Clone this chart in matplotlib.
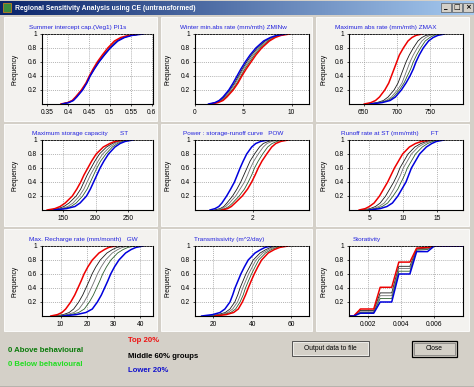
import numpy as np
import matplotlib
matplotlib.use("Agg")
import matplotlib.pyplot as plt
from matplotlib.patches import Rectangle
from matplotlib.colors import LinearSegmentedColormap
from matplotlib.ticker import FuncFormatter

plt.rcParams['font.family'] = ['Liberation Sans', 'DejaVu Sans']

W, H = 474, 387

# cumulative frequency levels shared by the smooth curves
FREQ = [0, 0.02, 0.05, 0.1, 0.2, 0.3, 0.4, 0.5, 0.6, 0.7, 0.8, 0.9, 0.95, 0.98, 1.0]

# --- Summer intercept cap.(Veg1) PI1s
pi1s_top = [0.383, 0.399, 0.410, 0.418, 0.432, 0.443, 0.451, 0.460, 0.470, 0.482, 0.495, 0.511, 0.526, 0.544, 0.570]
pi1s_mid1 = [0.384, 0.400, 0.411, 0.419, 0.433, 0.444, 0.452, 0.461, 0.472, 0.485, 0.499, 0.516, 0.531, 0.549, 0.575]
pi1s_mid2 = [0.385, 0.401, 0.412, 0.420, 0.434, 0.444, 0.452, 0.462, 0.473, 0.486, 0.500, 0.517, 0.533, 0.551, 0.577]
pi1s_mid3 = [0.385, 0.401, 0.412, 0.420, 0.434, 0.445, 0.453, 0.463, 0.474, 0.487, 0.501, 0.518, 0.534, 0.552, 0.578]
pi1s_low = [0.386, 0.402, 0.413, 0.421, 0.435, 0.445, 0.453, 0.463, 0.474, 0.487, 0.501, 0.519, 0.535, 0.553, 0.580]

# --- Winter min.abs rate ZMINw
zminw_top = [1.6, 2.38, 2.9, 3.3, 3.95, 4.45, 4.85, 5.3, 5.8, 6.3, 6.9, 7.7, 8.3, 8.9, 9.8]
zminw_mid1 = [1.45, 2.14, 2.6, 3.0, 3.6, 4.1, 4.5, 4.9, 5.35, 5.85, 6.45, 7.25, 7.9, 8.54, 9.5]
zminw_mid2 = [1.5, 2.22, 2.7, 3.1, 3.7, 4.2, 4.6, 5.0, 5.5, 6.0, 6.6, 7.4, 8.0, 8.64, 9.6]
zminw_mid3 = [1.55, 2.30, 2.8, 3.2, 3.85, 4.35, 4.75, 5.15, 5.65, 6.15, 6.75, 7.55, 8.15, 8.77, 9.7]
zminw_low = [1.4, 2.06, 2.5, 2.9, 3.5, 3.95, 4.35, 4.75, 5.2, 5.7, 6.3, 7.1, 7.8, 8.44, 9.4]

# --- Maximum abs rate ZMAX
zmax_top = [651, 661, 668, 674, 682, 688, 692, 696, 700, 704, 710, 717, 723, 729, 738]
zmax_mid1 = [655, 670, 680, 687, 696, 702, 706, 710, 714, 719, 725, 732, 738, 744, 754]
zmax_mid2 = [657, 673, 684, 692, 701, 708, 712, 716, 720, 725, 731, 738, 744, 750, 760]
zmax_mid3 = [658, 675, 687, 695, 704, 711, 716, 721, 725, 730, 736, 743, 750, 756, 766]
zmax_low = [660, 678, 690, 698, 707, 714, 720, 725, 729, 734, 740, 748, 755, 762, 772]

# --- Maximum storage capacity ST
st_top = [125, 137, 145, 153, 164, 171, 177, 182, 188, 194, 201, 212, 222, 230, 242]
st_mid1 = [128, 142, 151, 159, 170, 177, 182, 187, 193, 199, 206, 217, 226, 234, 246]
st_mid2 = [131, 147, 157, 165, 175, 182, 187, 192, 198, 204, 211, 222, 230, 238, 250]
st_mid3 = [134, 151, 162, 170, 180, 187, 192, 197, 202, 208, 216, 226, 234, 242, 254]
st_low = [136, 155, 168, 176, 186, 192, 197, 202, 207, 213, 220, 230, 238, 246, 258]

# --- Power : storage-runoff curve POW
pow_top = [1.51, 1.60, 1.66, 1.72, 1.835, 1.92, 1.985, 2.04, 2.09, 2.15, 2.225, 2.305, 2.37, 2.45, 2.57]
pow_mid1 = [1.39, 1.48, 1.54, 1.59, 1.68, 1.75, 1.81, 1.86, 1.91, 1.96, 2.03, 2.11, 2.17, 2.25, 2.37]
pow_mid2 = [1.43, 1.51, 1.57, 1.63, 1.73, 1.80, 1.87, 1.92, 1.965, 2.02, 2.09, 2.17, 2.23, 2.31, 2.43]
pow_mid3 = [1.47, 1.56, 1.62, 1.68, 1.785, 1.87, 1.93, 1.985, 2.03, 2.09, 2.16, 2.24, 2.31, 2.39, 2.51]
pow_low = [1.32, 1.40, 1.46, 1.51, 1.585, 1.65, 1.71, 1.755, 1.80, 1.85, 1.905, 1.985, 2.05, 2.13, 2.25]

# --- Runoff rate at ST FT
ft_top = [3.5, 4.4, 5.0, 5.7, 6.5, 7.1, 7.7, 8.2, 8.7, 9.3, 9.9, 10.9, 11.8, 12.7, 14.0]
ft_mid1 = [4.0, 5.1, 5.9, 6.6, 7.4, 8.0, 8.6, 9.1, 9.5, 10.1, 10.7, 11.7, 12.6, 13.4, 14.6]
ft_mid2 = [4.3, 5.6, 6.4, 7.2, 8.0, 8.6, 9.1, 9.6, 10.0, 10.6, 11.2, 12.2, 13.1, 13.9, 15.0]
ft_mid3 = [4.6, 6.0, 6.9, 7.7, 8.5, 9.2, 9.7, 10.2, 10.6, 11.2, 11.8, 12.8, 13.6, 14.4, 15.5]
ft_low = [5.0, 6.6, 7.6, 8.4, 9.2, 9.8, 10.4, 10.8, 11.2, 11.8, 12.4, 13.4, 14.2, 14.9, 16.0]

# --- Max. Recharge rate GW
gw_top = [6.3, 8.8, 10.5, 11.9, 13.8, 15.3, 16.5, 17.7, 18.8, 20.2, 21.9, 24.4, 26.5, 28.1, 30.5]
gw_mid1 = [7.6, 11.0, 13.2, 14.9, 16.8, 18.3, 19.5, 20.7, 21.8, 23.2, 24.9, 27.4, 29.5, 31.2, 33.7]
gw_mid2 = [8.5, 12.4, 15.0, 16.9, 18.8, 20.3, 21.5, 22.7, 23.8, 25.2, 26.9, 29.4, 31.5, 33.2, 35.7]
gw_mid3 = [9.3, 13.8, 16.8, 18.9, 20.8, 22.3, 23.5, 24.7, 25.8, 27.2, 28.9, 31.4, 33.5, 35.3, 38.0]
gw_low = [10.6, 15.9, 19.5, 21.9, 23.8, 25.3, 26.5, 27.7, 28.8, 30.2, 31.9, 34.4, 36.5, 38.3, 41.0]

# --- Transmissivity
tr_top = [20.9, 26.7, 30.5, 32.9, 35.0, 36.6, 38.0, 39.5, 41.1, 42.9, 44.9, 48.3, 51.5, 54.3, 58.6]
tr_mid1 = [16.6, 22.4, 26.2, 28.6, 31.1, 32.6, 33.8, 35.3, 36.8, 38.7, 40.6, 44.1, 47.2, 49.6, 53.3]
tr_mid2 = [18.0, 23.7, 27.5, 30.0, 32.5, 34.0, 35.2, 36.7, 38.2, 40.1, 42.0, 45.5, 48.6, 51.2, 55.0]
tr_mid3 = [19.5, 25.2, 29.0, 31.5, 33.8, 35.4, 36.6, 38.1, 39.7, 41.5, 43.4, 46.9, 50.0, 52.8, 56.9]
tr_low = [14.0, 19.7, 23.5, 26.0, 28.6, 30.0, 31.2, 32.7, 34.2, 36.0, 38.0, 41.5, 44.5, 46.7, 50.0]

# --- Storativity (discrete values -> stepped curves)
sto_x = [0.00083, 0.00112, 0.00152, 0.00233, 0.00272, 0.00342, 0.00385, 0.00452,
         0.00493, 0.00559, 0.0060, 0.00774]
sto_top = [0, 0, 0.10, 0.10, 0.41, 0.41, 0.77, 0.77, 0.97, 0.98, 1, 1]
sto_mid1 = [0, 0, 0.08, 0.08, 0.33, 0.33, 0.71, 0.71, 0.96, 0.97, 1, 1]
sto_mid2 = [0, 0, 0.06, 0.06, 0.29, 0.29, 0.68, 0.68, 0.95, 0.96, 1, 1]
sto_mid3 = [0, 0, 0.05, 0.05, 0.25, 0.25, 0.64, 0.64, 0.94, 0.95, 1, 1]
sto_low = [0, 0, 0.04, 0.04, 0.20, 0.20, 0.60, 0.60, 0.92, 0.92, 1, 1]

titles = ["Summer intercept cap.(Veg1) PI1s", "Winter min.abs rate (mm/mth) ZMINw",
          "Maximum abs rate (mm/mth) ZMAX", "Maximum storage capacity       ST",
          "Power : storage-runoff curve   POW", "Runoff rate at ST (mm/mth)       FT",
          "Max. Recharge rate (mm/month)   GW", "Transmissivity (m^2/day)", "Storativity"]
xticks = [[0.35, 0.4, 0.45, 0.5, 0.55, 0.6], [0, 5, 10], [650, 700, 750],
          [150, 200, 250], [2], [5, 10, 15], [10, 20, 30, 40], [20, 40, 60],
          [0.002, 0.004, 0.006]]
xlims = [(0.338, 0.603), (0, 11.8), (628, 800), (117, 289), (1.08, 2.9),
         (2, 18.8), (3, 44.7), (10.6, 69.3), (0.00083, 0.00774)]

panels = [
    (pi1s_top, pi1s_mid1, pi1s_mid2, pi1s_mid3, pi1s_low),
    (zminw_top, zminw_mid1, zminw_mid2, zminw_mid3, zminw_low),
    (zmax_top, zmax_mid1, zmax_mid2, zmax_mid3, zmax_low),
    (st_top, st_mid1, st_mid2, st_mid3, st_low),
    (pow_top, pow_mid1, pow_mid2, pow_mid3, pow_low),
    (ft_top, ft_mid1, ft_mid2, ft_mid3, ft_low),
    (gw_top, gw_mid1, gw_mid2, gw_mid3, gw_low),
    (tr_top, tr_mid1, tr_mid2, tr_mid3, tr_low),
    (sto_top, sto_mid1, sto_mid2, sto_mid3, sto_low),
]

# layout in screen pixels
col_axes = [(42, 153), (195, 309), (349, 463)]
row_axes = [(34, 104), (140, 210), (246, 316)]
col_box = [(4, 157), (161, 312), (316, 469)]
row_box = [(17, 121), (124, 226), (229, 331)]
title_x = [78, 233, 386, 80, 233, 390, 83, 229, 367]
title_y = [28, 133, 240]
ylab_x = [15, 168, 324]

BG = '#D4D0C8'
mid_colors = ['#1a1a1a', '#707070', '#2f5f2f']

fig = plt.figure(figsize=(W / 100, H / 100), dpi=100, facecolor=BG)
bg = fig.add_axes([0, 0, 1, 1])
bg.set_xlim(0, W)
bg.set_ylim(H, 0)
bg.axis('off')

# title bar
cmap = LinearSegmentedColormap.from_list('tb', ['#0A246A', '#A6CAF0'])
bg.imshow(np.linspace(0, 1, 256).reshape(1, -1), extent=(0, W, 15, 1),
          aspect='auto', cmap=cmap, zorder=1)
bg.text(15, 8, "Regional Sensitivity Analysis using CE (untransformed)", color='white',
        fontsize=4.9, fontweight='bold', va='center', ha='left', zorder=3)
bg.add_patch(Rectangle((3, 3), 8, 9, facecolor='#3c8c3c', edgecolor='#c08020', lw=0.6, zorder=3))
for bx, glyph in zip([441, 452, 463], ['_', '□', '×']):
    bg.add_patch(Rectangle((bx, 3), 10, 9, facecolor=BG, edgecolor='#404040', lw=0.4, zorder=3))
    bg.text(bx + 5, 7.5, glyph, fontsize=5, fontweight='bold', ha='center', va='center',
            family=['DejaVu Sans'], zorder=4)

# panel boxes
for r in range(3):
    for c in range(3):
        x0, x1 = col_box[c]
        y0, y1 = row_box[r]
        bg.add_patch(Rectangle((x0, y0), x1 - x0, y1 - y0, facecolor='#F3F2EF',
                               edgecolor='#FFFFFF', lw=0.6, zorder=1))

fmt = FuncFormatter(lambda v, p: '%g' % v)
for i, curves in enumerate(panels):
    r, c = divmod(i, 3)
    l, rt = col_axes[c]
    t, b = row_axes[r]
    ax = fig.add_axes([l / W, 1 - b / H, (rt - l) / W, (b - t) / H])
    ax.set_facecolor('white')
    top, m1, m2, m3, low = curves
    if i == 8:
        xs_list = [sto_x] * 5
        ys_list = [m1, m2, m3, top, low]
    else:
        xs_list = [m1, m2, m3, top, low]
        ys_list = [FREQ] * 5
    styles = [(mid_colors[0], 0.6), (mid_colors[1], 0.6), (mid_colors[2], 0.6),
              ('#EE0000', 1.1), ('#0000DD', 1.1)]
    for xs, ys, (col, lw) in zip(xs_list, ys_list, styles):
        ax.plot(xs, ys, color=col, lw=lw, solid_joinstyle='round')
    ax.set_xlim(*xlims[i])
    ax.set_ylim(0, 1)
    ax.set_xticks(xticks[i])
    ax.xaxis.set_major_formatter(fmt)
    ax.set_yticks([0.2, 0.4, 0.6, 0.8, 1.0])
    ax.set_yticklabels(['0.2', '0.4', '0.6', '0.8', '1'])
    ax.tick_params(labelsize=4.8, length=1.5, width=0.5, pad=2)
    ax.grid(True, color='#9a9a9a', ls=(0, (1.5, 1.5)), lw=0.5)
    for side in ['left', 'bottom', 'right']:
        ax.spines[side].set_linewidth(0.8)
    ax.spines['top'].set_linestyle((0, (2, 1.5)))
    ax.spines['top'].set_linewidth(0.6)
    bg.text(title_x[i], title_y[r], titles[i], color='#2222DD', fontsize=4.6,
            ha='center', va='center', zorder=3)
    bg.text(ylab_x[c], (t + b) / 2, "Frequency", rotation=90, fontsize=4.8,
            ha='center', va='center', zorder=3)

# legend / status text
bg.text(8, 351, "0 Above behavioural", color='#0A7A0A', fontsize=5.6, fontweight='bold', va='center')
bg.text(8, 365, "0 Below behavioural", color='#22DD22', fontsize=5.6, fontweight='bold', va='center')
bg.text(128, 341, "Top 20%", color='#EE1111', fontsize=5.6, fontweight='bold', va='center')
bg.text(128, 356, "Middle 60% groups", color='black', fontsize=5.6, fontweight='bold', va='center')
bg.text(128, 371, "Lower 20%", color='#1111CC', fontsize=5.6, fontweight='bold', va='center')

# buttons
bg.add_patch(Rectangle((292, 341), 77, 15, facecolor=BG, edgecolor='#404040', lw=0.6, zorder=2))
bg.add_patch(Rectangle((292.8, 341.8), 75.4, 13.4, facecolor='none', edgecolor='white', lw=0.4, zorder=2))
bg.text(330.5, 348.5, "Output data to file", fontsize=4.8, ha='center', va='center', zorder=3)
bg.add_patch(Rectangle((412, 341), 45, 16, facecolor=BG, edgecolor='black', lw=0.9, zorder=2))
bg.add_patch(Rectangle((414, 343), 41, 12, facecolor='none', edgecolor='#606060', lw=0.4, zorder=2))
bg.text(434.5, 349, "Close", fontsize=4.8, ha='center', va='center', zorder=3)

bg.plot([0, W], [386.5, 386.5], color='#404040', lw=1)

fig.savefig("out.png", dpi=100, facecolor=BG)
